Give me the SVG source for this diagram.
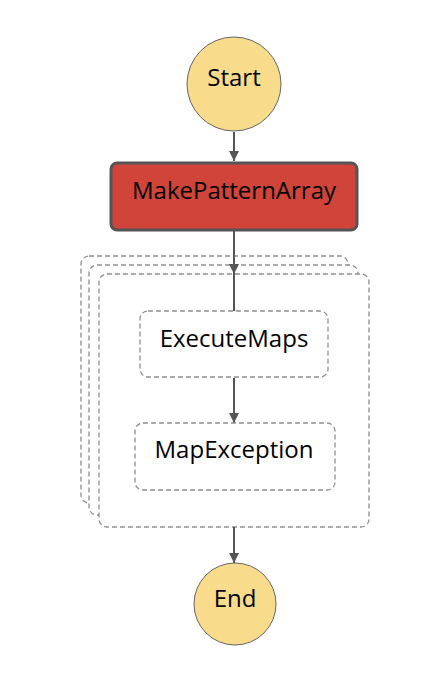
<svg xmlns="http://www.w3.org/2000/svg" width="446" height="686" viewBox="0 0 446 686">
<defs>
<marker id="arr" viewBox="0 0 10 10" refX="10" refY="5" markerWidth="10" markerHeight="10" markerUnits="userSpaceOnUse" orient="auto">
<path d="M0,0 L10,5 L0,10 z" fill="#555"/>
</marker>
</defs>
<style>
.lbl{font-family:"Open Sans","Noto Sans",sans-serif;font-size:24px;fill:#000;text-anchor:middle;dominant-baseline:central}
.term{fill:#f8dc8c;stroke:#666;stroke-width:1}
.frame{fill:#fff;stroke:#8f8f8f;stroke-width:1.3;stroke-dasharray:5,3}
.edge{stroke:#555;stroke-width:2;fill:none}
</style>
<rect width="446" height="686" fill="#fff"/>
<g id="map-frames">
<rect class="frame" x="81" y="256" width="267" height="247" rx="8"/>
<rect class="frame" x="89" y="265" width="269" height="250" rx="8"/>
<rect class="frame" x="99" y="274" width="270" height="253" rx="8"/>
</g>
<g id="connectors">
<line class="edge" x1="234" y1="132" x2="234" y2="161" marker-end="url(#arr)"/>
<line class="edge" x1="234" y1="231" x2="234" y2="274" marker-end="url(#arr)"/>
<line class="edge" x1="234" y1="274" x2="234" y2="311"/>
<line class="edge" x1="234" y1="378" x2="234" y2="423" marker-end="url(#arr)"/>
<line class="edge" x1="234" y1="527" x2="234" y2="563" marker-end="url(#arr)"/>
</g>
<g id="start">
<circle class="term" cx="234" cy="84" r="47"/>
<text class="lbl" x="234" y="76">Start</text>
</g>
<g id="MakePatternArray">
<rect x="111" y="163" width="246" height="67" rx="6" fill="#d0443a" stroke="#555" stroke-width="3"/>
<text class="lbl" x="234" y="189">MakePatternArray</text>
</g>
<g id="ExecuteMaps">
<rect class="frame" x="140" y="311" width="188" height="66" rx="8"/>
<text class="lbl" x="234" y="337">ExecuteMaps</text>
</g>
<g id="MapException">
<rect class="frame" x="135" y="423" width="200" height="67" rx="8"/>
<text class="lbl" x="234" y="448">MapException</text>
</g>
<g id="end">
<circle class="term" cx="235" cy="604" r="41"/>
<text class="lbl" x="235" y="597">End</text>
</g>
</svg>
